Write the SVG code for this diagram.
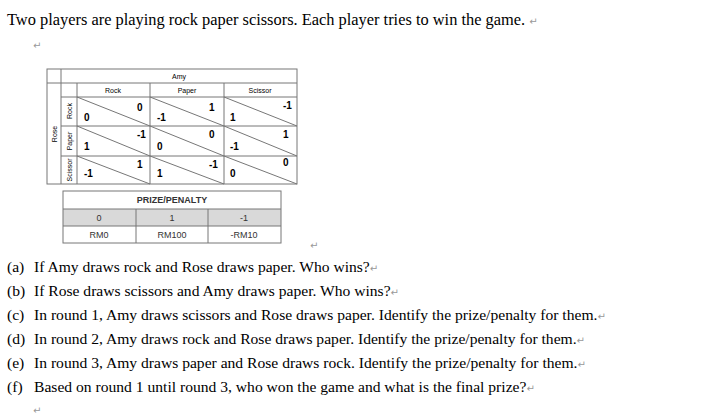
<svg xmlns="http://www.w3.org/2000/svg" width="705" height="416" viewBox="0 0 705 416">
<style>
.t{font-family:"Liberation Serif",serif;font-size:15.6px;fill:#000}
.r{font-family:"DejaVu Sans",sans-serif;font-size:10px;fill:#999}
.g{stroke:#777;stroke-width:1;fill:none}
.h{font-family:"Liberation Sans",sans-serif;font-size:7px;fill:#000;text-anchor:middle}
.n{font-family:"Liberation Sans",sans-serif;font-size:10px;font-weight:bold;fill:#000}
.p{font-family:"Liberation Sans",sans-serif;font-size:9px;fill:#333;text-anchor:middle}
</style>
<rect width="705" height="416" fill="#fff"/>
<text class="t" x="7" y="25" style="font-size:16.4px">Two players are playing rock paper scissors. Each player tries to win the game. <tspan class="r">↵</tspan></text>
<text class="r" x="33" y="49">↵</text>
<g id="payoff">
<rect class="g" x="47" y="69" width="250" height="115"/>
<path class="g" d="M61 69V184M47 83H297M77 83V184M61 97H297M150 83V184M224 83V184M61 126H297M61 156H297"/>
<path class="g" d="M77 97L150 126M150 97L224 126M224 97L297 126M77 126L150 156M150 126L224 156M224 126L297 156M77 156L150 184M150 156L224 184M224 156L297 184"/>
<text class="h" x="179" y="79">Amy</text>
<text class="h" x="113" y="93">Rock</text>
<text class="h" x="187" y="93">Paper</text>
<text class="h" x="260" y="93">Scissor</text>
<text class="h" transform="translate(57,134) rotate(-90)">Rose</text>
<text class="h" transform="translate(72,111) rotate(-90)">Rock</text>
<text class="h" transform="translate(72,141) rotate(-90)">Paper</text>
<text class="h" transform="translate(72,170) rotate(-90)">Scissor</text>
<g class="n">
<text x="84" y="121">0</text><text x="137" y="111">0</text>
<text x="157" y="121">-1</text><text x="209" y="111">1</text>
<text x="230" y="121">1</text><text x="283" y="109">-1</text>
<text x="84" y="150">1</text><text x="137" y="138">-1</text>
<text x="157" y="150">0</text><text x="209" y="138">0</text>
<text x="230" y="150">-1</text><text x="283" y="138">1</text>
<text x="84" y="177">-1</text><text x="137" y="168">1</text>
<text x="157" y="177">1</text><text x="209" y="168">-1</text>
<text x="230" y="177">0</text><text x="283" y="166">0</text>
</g>
</g>
<g id="prize">
<rect x="63" y="209" width="218" height="17" fill="#d9d9d9"/>
<rect class="g" x="63" y="191" width="218" height="52"/>
<path class="g" d="M63 209H281M63 226H281M136 209V243M208 209V243"/>
<text class="p" x="172" y="203" font-weight="bold" fill="#000">PRIZE/PENALTY</text>
<text class="p" x="99" y="221">0</text><text class="p" x="172" y="221">1</text><text class="p" x="244" y="221">-1</text>
<text class="p" x="99" y="238">RM0</text><text class="p" x="172" y="238">RM100</text><text class="p" x="244" y="238">-RM10</text>
</g>
<text class="r" x="310" y="249">↵</text>
<text class="t" x="7" y="272">(a)<tspan x="34">If Amy draws rock and Rose draws paper. Who wins?</tspan><tspan class="r">↵</tspan></text>
<text class="t" x="7" y="296">(b)<tspan x="34">If Rose draws scissors and Amy draws paper. Who wins?</tspan><tspan class="r">↵</tspan></text>
<text class="t" x="7" y="320">(c)<tspan x="34">In round 1, Amy draws scissors and Rose draws paper. Identify the prize/penalty for them.</tspan><tspan class="r">↵</tspan></text>
<text class="t" x="7" y="344">(d)<tspan x="34">In round 2, Amy draws rock and Rose draws paper. Identify the prize/penalty for them.</tspan><tspan class="r">↵</tspan></text>
<text class="t" x="7" y="368">(e)<tspan x="34">In round 3, Amy draws paper and Rose draws rock. Identify the prize/penalty for them.</tspan><tspan class="r">↵</tspan></text>
<text class="t" x="7" y="392">(f)<tspan x="34">Based on round 1 until round 3, who won the game and what is the final prize?</tspan><tspan class="r">↵</tspan></text>
<text class="r" x="33" y="414">↵</text>
</svg>
